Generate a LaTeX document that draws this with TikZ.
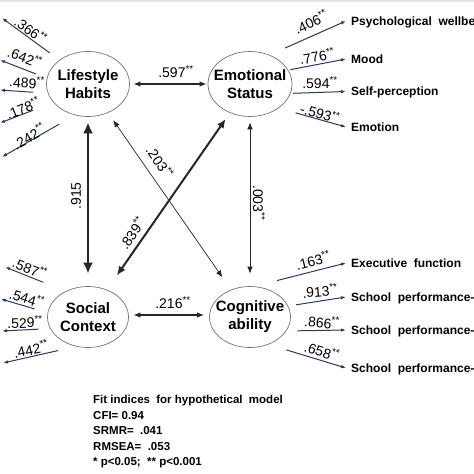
\documentclass[tikz,border=0pt]{standalone}
\usepackage{fontspec}
\setmainfont{Liberation Sans}
\usetikzlibrary{arrows.meta,shapes.geometric}
\definecolor{pathblue}{RGB}{38,58,96}
\definecolor{rimgray}{RGB}{115,115,115}
\newcommand{\ssig}{\textsuperscript{**}}
\newcommand{\wsp}{\hspace{0.55em}}

\begin{document}
\begin{tikzpicture}[x=1pt,y=-1pt,
    latent/.style={ellipse,draw=rimgray,line width=0.7pt,inner xsep=-7pt,inner ysep=0pt,
      align=center,font=\bfseries\fontsize{15}{18}\selectfont},
    ind/.style={pathblue,line width=1pt,-{Latex[length=5pt,width=3.5pt]}},
    coef/.style={inner sep=0pt,font=\fontsize{14}{14}\selectfont},
    indtext/.style={anchor=west,inner xsep=5pt,inner ysep=0pt,text height=8.6pt,text depth=0pt,
      font=\bfseries\fontsize{12}{12}\selectfont},
    path2/.style={black!85,line width=#1,{Latex[length=7pt,width=5.5pt]}-{Latex[length=7pt,width=5.5pt]}}]
  \useasboundingbox (0,0) rectangle (474,474);
  \fill[black!10] (0,0) rectangle (474,2);
  % Latent constructs
  \node[latent,minimum width=83pt,minimum height=65pt] (lh) at (88,84) {Lifestyle\\Habits};
  \node[latent,minimum width=84pt,minimum height=65pt] (es) at (250,84) {Emotional\\Status};
  \node[latent,minimum width=81pt,minimum height=61pt] (sc) at (88,317) {Social\\Context};
  \node[latent,minimum width=81pt,minimum height=61pt] (ca) at (250,317) {Cognitive\\ability};
  % Structural paths
  \draw[path2=1.4pt,shorten <=3.5pt,shorten >=1pt] (lh.east) -- (es.west);
  \draw[path2=1.2pt,shorten <=4.5pt,shorten >=5pt] ([yshift=2pt]sc.east) -- ([yshift=2pt]ca.west);
  \draw[black!85,line width=2.8pt,{Latex[length=11pt,width=10pt]}-{Latex[length=11pt,width=10pt]},
        shorten <=5.5pt,shorten >=12.5pt] (lh.south) -- (sc.north);
  \draw[path2=0.7pt,shorten <=5.5pt,shorten >=12.5pt] (es.south) -- (ca.north);
  \draw[path2=0.7pt,shorten <=9pt,shorten >=15pt] (lh) -- (ca);
  \draw[black!85,line width=2pt,{Latex[length=9pt,width=8pt]}-{Latex[length=9pt,width=8pt]},
        shorten <=17.5pt,shorten >=7.5pt] (sc) -- (es);
  \node[coef] (c597) at (176,72) {.597\ssig};
  \node[coef] (c216) at (173,303) {.216\ssig};
  \node[coef,rotate=90] (c915) at (76,196) {.915};
  \node[coef,rotate=-90] (c003) at (259,203) {.003\ssig};
  \node[coef,rotate=-55.6] (c203) at (160,162) {.203\ssig};
  \node[coef,rotate=55.5] (c839) at (132,233) {.839\ssig};
  % Indicators of lifestyle habits
  \foreach \i/\a/\s/\tx/\ty/\lx/\ly/\r/\v in {1/140/12/2/18/31/30/-36/.366, 2/172/12/0/60/25/57/-21/.642,
      3/193/15/0/90/27/82/-3.5/.489, 4/208/22/0/123/23/108/21.5/.178, 5/247/18/2/157/29/136/30/.242}{
    \coordinate (lhout\i) at (\tx,\ty);
    \draw[ind,shorten <=\s pt] (lh.\a) -- (lhout\i);
    \node[coef,rotate=\r] (lhc\i) at (\lx,\ly) {\v\ssig};
  }
  % Indicators of social context
  \foreach \i/\a/\s/\tx/\ty/\lx/\ly/\r/\v in {1/131/24/5/267/30/268/-22/.587, 2/174/13.5/1/299/27/298/-17.4/.544,
      3/197/11.5/2/331/25/322/1.5/.529, 4/248/18.5/3/363/31/349/12/.442}{
    \coordinate (scout\i) at (\tx,\ty);
    \draw[ind,shorten <=\s pt] (sc.\a) -- (scout\i);
    \node[coef,rotate=\r] (scc\i) at (\lx,\ly) {\v\ssig};
  }
  % Indicators of emotional status
  \foreach \i/\a/\s/\ty/\lx/\ly/\r/\v/\txt in {1/56/17/21/311/22/25/.406/Psychological\wsp wellbeing,
      2/20/2/59/317/56/10/.776/Mood, 3/347/2.6/91.5/320/83/0/.594/Self-perception,
      4/320/17.5/127/320/113/-16.4/-.593/Emotion}{
    \node[indtext] (esind\i) at (346,\ty) {\txt};
    \draw[ind,shorten <=\s pt] (es.\a) -- (esind\i.west);
    \node[coef,rotate=\r] (esc\i) at (\lx,\ly) {\v\ssig};
  }
  % Indicators of cognitive ability
  \foreach \i/\a/\s/\ty/\lx/\ly/\r/\v/\txt in {1/82/23.5/263/313/260/14/.163/Executive\wsp function,
      2/16/8/297/320/291/4.4/.913/School\wsp performance-L, 3/339/11/330/322/322/-4.3/.866/School\wsp performance-,
      4/304/18.7/368/322/351/-17.9/.658/School\wsp performance-}{
    \node[indtext] (caind\i) at (346,\ty) {\txt};
    \draw[ind,shorten <=\s pt] (ca.\a) -- (caind\i.west);
    \node[coef,rotate=\r] (cac\i) at (\lx,\ly) {\v\ssig};
  }
  % Fit indices
  \node[anchor=north west,inner sep=0pt,align=left,font=\bfseries\fontsize{11.5}{15.6}\selectfont]
    (fitnote) at (93,395) {Fit indices\wsp for hypothetical\wsp model\\CFI= 0.94\\SRMR=\wsp.041\\RMSEA=\wsp.053\\* p<0.05;\wsp** p<0.001};
\end{tikzpicture}
\end{document}
